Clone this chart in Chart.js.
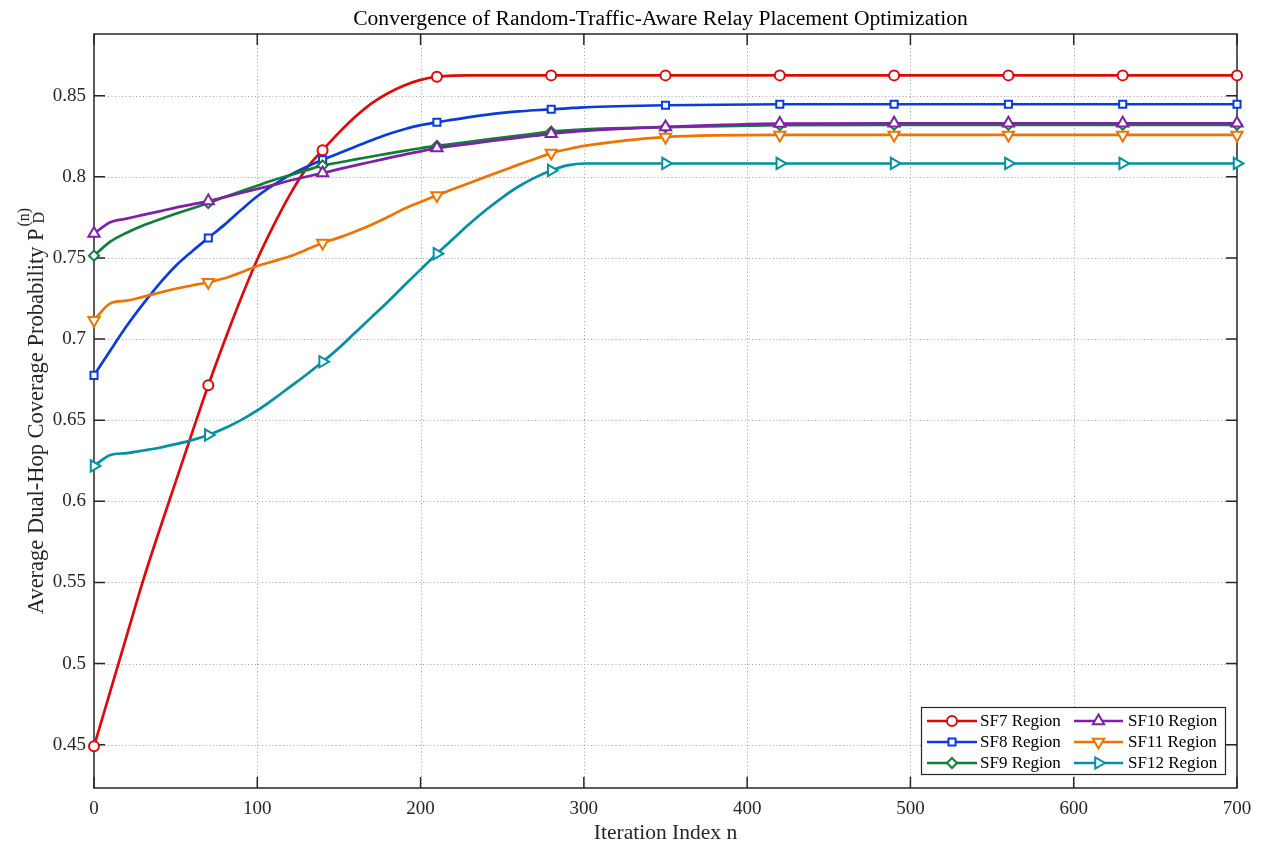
<!DOCTYPE html>
<html>
<head>
<meta charset="utf-8">
<title>Convergence of Random-Traffic-Aware Relay Placement Optimization</title>
<script src="https://cdn.jsdelivr.net/npm/chart.js"></script>
<style>
  html, body { margin: 0; padding: 0; background: #fff; }
  #wrap { width: 1261px; height: 850px; }
</style>
</head>
<body>
<div id="wrap"><canvas id="convChart" width="1261" height="850"></canvas></div>
<script>
// iteration index n (markers every 70 iterations)
const iterations = [0,10,20,30,40,50,60,70,80,90,100,110,120,130,140,150,160,170,180,190,200,210,220,230,240,250,260,270,280,290,300,350,420,490,560,630,700];

const sf7 = [0.449,0.483,0.517,0.551,0.582,0.612,0.642, 0.6715,0.699,0.725,0.749,0.770,0.789,0.805,
  0.8164,0.8272,0.837,0.8452,0.8515,0.8563,0.8597,0.8617, 0.8624,0.8625,0.8625,0.8625,0.8625,0.8625,0.8625,0.8625,0.8625,
  0.8625,0.8625,0.8625,0.8625,0.8625,0.8625];
const sf8 = [0.6776,0.693,0.708,0.7215,0.734,0.745,0.754, 0.7623,0.7705,0.7795,0.788,0.795,0.801,0.806,
  0.8105,0.8145,0.8185,0.8225,0.8262,0.8293,0.8318,0.8336, 0.8352,0.8368,0.8382,0.8394,0.8403,0.841,0.8416,0.8422,0.8428,
  0.8441,0.8447,0.8447,0.8447,0.8447,0.8447];
const sf9 = [0.7514,0.760,0.7655,0.770,0.7737,0.7772,0.7805, 0.7838,0.7875,0.791,0.7945,0.798,0.801,0.804,
  0.807,0.8088,0.8107,0.8125,0.8143,0.816,0.8176,0.819, 0.8203,0.8216,0.8229,0.8241,0.8254,0.8266,0.8278,0.8286,0.8293,
  0.8306,0.8318,0.832,0.832,0.832,0.832];
const sf10 = [0.765,0.772,0.7742,0.7765,0.7787,0.781,0.783, 0.785,0.7875,0.790,0.7925,0.795,0.7977,0.800,
  0.8023,0.8047,0.807,0.8093,0.8115,0.8137,0.8157,0.8177, 0.819,0.8203,0.8216,0.8229,0.8241,0.8253,0.8265,0.8275,0.8283,
  0.8307,0.8328,0.833,0.833,0.833,0.833];
const sf11 = [0.7116,0.722,0.7237,0.726,0.7285,0.731,0.733, 0.735,0.7375,0.741,0.745,0.748,0.751,0.755,
  0.7592,0.7625,0.7663,0.7705,0.7752,0.7803,0.7845,0.7885, 0.7925,0.7962,0.800,0.8037,0.8075,0.811,0.8146,0.817,0.819,
  0.8245,0.8258,0.8258,0.8258,0.8258,0.8258];
const sf12 = [0.6218,0.6285,0.6297,0.6313,0.633,0.6352,0.6377, 0.6409,0.645,0.650,0.656,0.663,0.6705,0.678,
  0.686,0.6945,0.704,0.7135,0.723,0.733,0.7428,0.7526, 0.7618,0.771,0.7795,0.7872,0.794,0.7995,0.8039,0.807,0.8082,
  0.8082,0.8082,0.8082,0.8082,0.8082,0.8082];

const seriesNames = ['SF7 Region','SF8 Region','SF9 Region','SF10 Region','SF11 Region','SF12 Region'];
const xTicks = [0,100,200,300,400,500,600,700];
const yTicks = [0.45,0.5,0.55,0.6,0.65,0.7,0.75,0.8,0.85];

const FONT = '"Liberation Serif", "Times New Roman", serif';
const styles = [
  { color: '#DD0A0A', pointStyle: 'circle',   rotation: 0,   radius: 5 },
  { color: '#0A3CDB', pointStyle: 'rect',     rotation: 0,   radius: 5 },
  { color: '#0E7F35', pointStyle: 'rectRot',  rotation: 0,   radius: 5 },
  { color: '#8020A8', pointStyle: 'triangle', rotation: 0,   radius: 6.5 },
  { color: '#EE7300', pointStyle: 'triangle', rotation: 180, radius: 6.5 },
  { color: '#0091A5', pointStyle: 'triangle', rotation: 90,  radius: 6.5 }
];
const allSeries = [sf7, sf8, sf9, sf10, sf11, sf12];

const datasets = allSeries.map((vals, i) => ({
  label: seriesNames[i],
  data: iterations.map((n, k) => ({ x: n, y: vals[k] })),
  borderColor: styles[i].color,
  borderWidth: 2.7,
  backgroundColor: '#ffffff',
  pointBackgroundColor: '#ffffff',
  pointBorderColor: styles[i].color,
  pointBorderWidth: 2,
  pointStyle: styles[i].pointStyle,
  pointRotation: styles[i].rotation,
  pointRadius: ctx => (iterations[ctx.dataIndex] % 70 === 0 ? styles[i].radius : 0),
  pointHoverRadius: 0,
  cubicInterpolationMode: 'monotone',
  fill: false,
  clip: false,
  order: 5 - i
}));

function drawMarker(ctx, st, x, y) {
  ctx.save();
  ctx.fillStyle = '#ffffff';
  ctx.strokeStyle = st.color;
  ctx.lineWidth = 2;
  if (Chart.helpers && Chart.helpers.drawPoint) {
    Chart.helpers.drawPoint(ctx, { pointStyle: st.pointStyle, rotation: st.rotation, radius: st.radius, borderWidth: 2 }, x, y);
  } else {
    ctx.beginPath(); ctx.arc(x, y, st.radius, 0, Math.PI * 2); ctx.fill(); ctx.stroke();
  }
  ctx.restore();
}

// dotted grid, box and inward ticks under the data; texts and legend on top
const gridPlugin = {
  id: 'matlabGrid',
  beforeDatasetsDraw(chart) {
    const { ctx, chartArea: a, scales: { x, y } } = chart;
    ctx.save();
    ctx.strokeStyle = '#a0a0a0';
    ctx.lineWidth = 1;
    ctx.setLineDash([1, 2.5]);
    xTicks.forEach(v => {
      const px = Math.round(x.getPixelForValue(v)) + 0.5;
      if (px < a.left + 2 || px > a.right - 2) return;
      ctx.beginPath(); ctx.moveTo(px, a.top); ctx.lineTo(px, a.bottom); ctx.stroke();
    });
    yTicks.forEach(v => {
      const py = Math.round(y.getPixelForValue(v)) + 0.5;
      ctx.beginPath(); ctx.moveTo(a.left, py); ctx.lineTo(a.right, py); ctx.stroke();
    });
    ctx.setLineDash([]);
    ctx.strokeStyle = '#262626';
    ctx.lineWidth = 1.5;
    ctx.strokeRect(a.left, a.top, a.right - a.left, a.bottom - a.top);
    const tl = 11;
    ctx.beginPath();
    xTicks.forEach(v => {
      const px = x.getPixelForValue(v);
      ctx.moveTo(px, a.bottom); ctx.lineTo(px, a.bottom - tl);
      ctx.moveTo(px, a.top); ctx.lineTo(px, a.top + tl);
    });
    yTicks.forEach(v => {
      const py = y.getPixelForValue(v);
      ctx.moveTo(a.left, py); ctx.lineTo(a.left + tl, py);
      ctx.moveTo(a.right, py); ctx.lineTo(a.right - tl, py);
    });
    ctx.stroke();
    ctx.restore();
  },
  afterDraw(chart) {
    const { ctx, chartArea: a } = chart;
    ctx.save();
    ctx.fillStyle = '#000000';
    ctx.textBaseline = 'middle';
    ctx.textAlign = 'center';
    // title
    ctx.font = '21.6px ' + FONT;
    ctx.fillText('Convergence of Random-Traffic-Aware Relay Placement Optimization', (a.left + a.right) / 2 - 5, 19);
    // x title
    ctx.fillStyle = '#262626';
    ctx.font = '21.5px ' + FONT;
    ctx.fillText('Iteration Index n', (a.left + a.right) / 2, 833);

    // y title with P_D^(n)
    const main = 'Average Dual-Hop Coverage Probability P';
    ctx.font = '22.5px ' + FONT;
    const w = ctx.measureText(main).width;
    ctx.font = '16px ' + FONT;
    const ws = Math.max(ctx.measureText('(n)').width, ctx.measureText('D').width);
    const total = w + 2 + ws;
    ctx.translate(43, (a.top + a.bottom) / 2);
    ctx.rotate(-Math.PI / 2);
    ctx.textAlign = 'left';
    ctx.textBaseline = 'alphabetic';
    ctx.font = '22.5px ' + FONT;
    ctx.fillText(main, -total / 2, 0);
    ctx.font = '16px ' + FONT;
    const sx = -total / 2 + w + 2;
    ctx.fillText('(n)', sx, -14);
    ctx.fillText('D', sx + 3, 1);
    ctx.restore();

    // legend box
    ctx.save();
    const bx = 921, by = 707, bw = 304, bh = 67;
    ctx.fillStyle = '#ffffff';
    ctx.fillRect(bx, by, bw, bh);
    ctx.strokeStyle = '#262626';
    ctx.lineWidth = 1.2;
    ctx.strokeRect(bx + 0.5, by + 0.5, bw, bh);
    ctx.font = '17px ' + FONT;
    ctx.textAlign = 'left';
    ctx.textBaseline = 'middle';
    const rowsY = [721, 742, 763];
    const cols = [{ l0: 927, l1: 977, t: 980 }, { l0: 1074, l1: 1123, t: 1128 }];
    seriesNames.forEach((name, i) => {
      const c = cols[Math.floor(i / 3)];
      const yy = rowsY[i % 3];
      const st = styles[i];
      ctx.strokeStyle = st.color;
      ctx.lineWidth = 2.7;
      ctx.beginPath(); ctx.moveTo(c.l0, yy); ctx.lineTo(c.l1, yy); ctx.stroke();
      drawMarker(ctx, st, (c.l0 + c.l1) / 2, yy);
      ctx.fillStyle = '#000000';
      ctx.fillText(name, c.t, yy + 1);
    });
    ctx.restore();
  }
};

new Chart(document.getElementById('convChart').getContext('2d'), {
  type: 'line',
  data: { datasets: datasets },
  plugins: [gridPlugin],
  options: {
    responsive: false,
    animation: false,
    devicePixelRatio: 1,
    events: [],
    layout: { padding: { left: 0, right: 24, top: 34, bottom: 0 } },
    plugins: { legend: { display: false }, title: { display: false }, tooltip: { enabled: false } },
    scales: {
      x: {
        type: 'linear',
        min: 0, max: 700,
        afterFit: s => { s.height = 62; },
        afterBuildTicks: s => { s.ticks = xTicks.map(v => ({ value: v })); },
        grid: { display: false },
        border: { display: false },
        ticks: { color: '#262626', padding: 2, maxRotation: 0, font: { family: FONT, size: 19 } }
      },
      y: {
        type: 'linear',
        min: 0.4233, max: 0.888,
        afterFit: s => { s.width = 94; },
        afterBuildTicks: s => { s.ticks = yTicks.map(v => ({ value: v })); },
        grid: { display: false },
        border: { display: false },
        ticks: {
          color: '#262626', padding: 0, font: { family: FONT, size: 19 },
          callback: v => String(Math.round(v * 100) / 100)
        }
      }
    }
  }
});
</script>
</body>
</html>
